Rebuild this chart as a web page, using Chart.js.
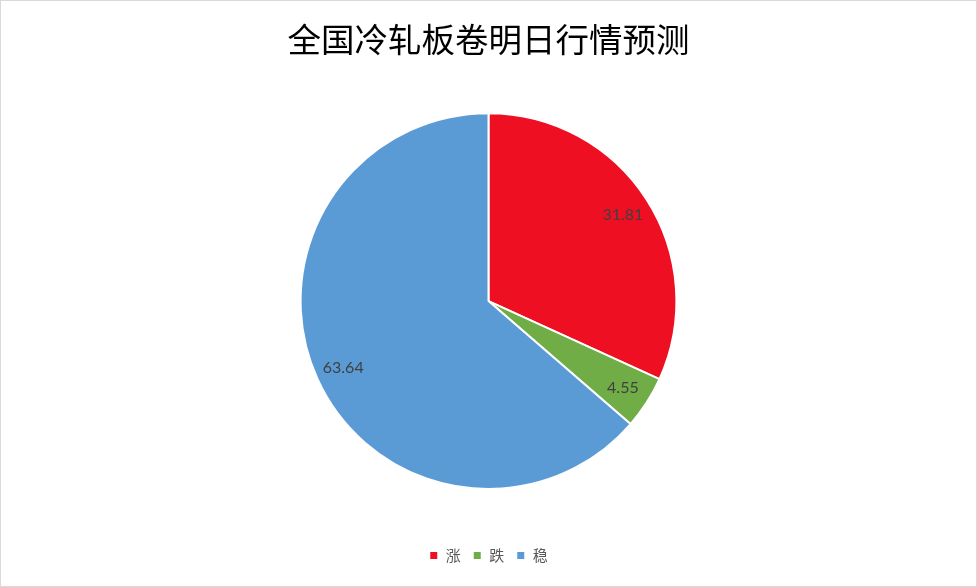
<!DOCTYPE html>
<html>
<head>
<meta charset="utf-8">
<script src="https://cdn.jsdelivr.net/npm/chart.js@4/dist/chart.umd.min.js"></script>
<style>
html,body{margin:0;padding:0;background:#fff;}
#wrap{position:absolute;left:0;top:0;width:975px;height:585px;border:1px solid #d9d9d9;}
canvas{display:block;}
</style>
</head>
<body>
<div id="wrap"><canvas id="c" width="975" height="585"></canvas></div>
<script>
const titleText = "全国冷轧板卷明日行情预测";
const categories = ["涨", "跌", "稳"];
const values = [31.81, 4.55, 63.64];
const colors = ["#EF0F22", "#70AD47", "#5B9BD5"];

const labelPlugin = {
  id: "sliceLabels",
  afterDatasetsDraw(chart) {
    const ctx = chart.ctx;
    const meta = chart.getDatasetMeta(0);
    ctx.save();
    ctx.font = "16px Lato, 'Open Sans', sans-serif";
    ctx.fillStyle = "#404040";
    ctx.textAlign = "center";
    ctx.textBaseline = "middle";
    meta.data.forEach((arc, i) => {
      const p = arc.getProps(["x", "y", "startAngle", "endAngle", "outerRadius"], true);
      const mid = (p.startAngle + p.endAngle) / 2;
      const r = p.outerRadius * 0.85;
      ctx.fillText(values[i].toFixed(2), p.x + Math.cos(mid) * r, p.y + Math.sin(mid) * r);
    });
    ctx.restore();
  }
};

new Chart(document.getElementById("c"), {
  type: "pie",
  data: {
    labels: categories,
    datasets: [{
      data: values,
      backgroundColor: colors,
      borderColor: "#ffffff",
      borderWidth: 2,
      hoverOffset: 0
    }]
  },
  options: {
    responsive: false,
    animation: false,
    events: [],
    layout: { padding: { top: 0, bottom: 13, left: 0, right: 0 } },
    plugins: {
      title: {
        display: true,
        text: titleText,
        color: "#000000",
        font: { family: "'Noto Sans CJK SC', sans-serif", size: 33.5, weight: "normal" },
        padding: { top: 18, bottom: 53 }
      },
      legend: {
        display: true,
        position: "bottom",
        title: {
          display: true,
          text: " ",
          font: { size: 15 },
          padding: { top: 0, bottom: 28 }
        },
        labels: {
          color: "#595959",
          font: { family: "'Noto Sans CJK SC', sans-serif", size: 15 },
          boxWidth: 9,
          boxHeight: 9,
          padding: 12
        }
      },
      tooltip: { enabled: false }
    }
  },
  plugins: [labelPlugin]
});
</script>
</body>
</html>
